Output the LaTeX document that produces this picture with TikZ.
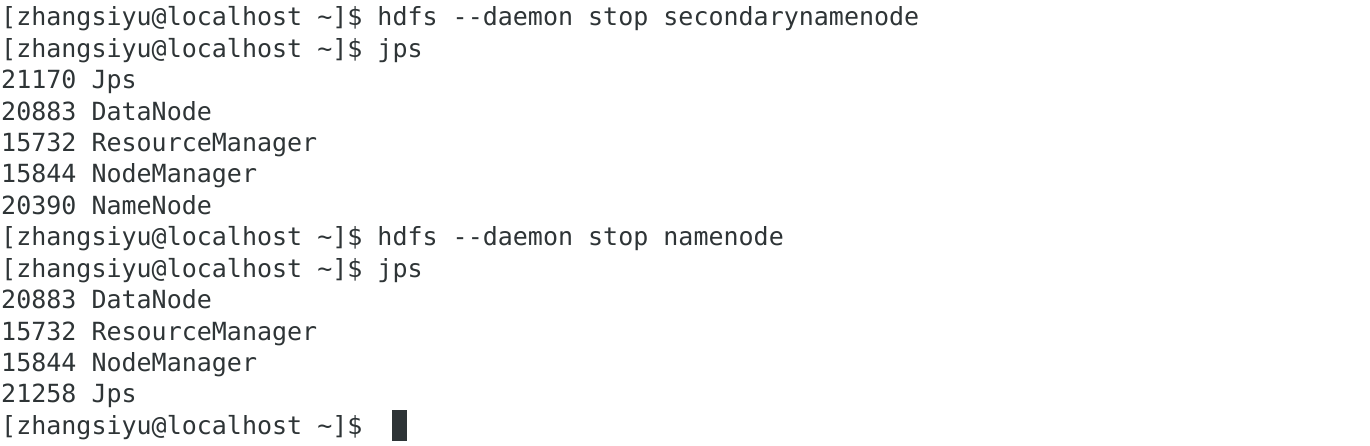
\documentclass[tikz,border=0pt]{standalone}
\usepackage{fontspec}
\setmonofont{DejaVu Sans Mono}
\definecolor{term}{HTML}{2E3436}
\begin{document}
\begin{tikzpicture}[x=1pt,y=-1pt,
  ln/.style={anchor=base west,inner sep=0pt,text=term,font=\ttfamily\fontsize{25}{30}\selectfont}]
\useasboundingbox (0,0) rectangle (1370,446);
\def\P{[zhangsiyu@localhost \textasciitilde]\$ }
\node[ln] (l1) at (1,26) {\P hdfs -{}-daemon stop secondarynamenode};
\node[ln] (l2) at (1,57.4) {\P jps};
\node[ln] (l3) at (1,88.8) {21170 Jps};
\node[ln] (l4) at (1,120.2) {20883 DataNode};
\node[ln] (l5) at (1,151.6) {15732 ResourceManager};
\node[ln] (l6) at (1,183) {15844 NodeManager};
\node[ln] (l7) at (1,214.4) {20390 NameNode};
\node[ln] (l8) at (1,245.8) {\P hdfs -{}-daemon stop namenode};
\node[ln] (l9) at (1,277.2) {\P jps};
\node[ln] (l10) at (1,308.6) {20883 DataNode};
\node[ln] (l11) at (1,340) {15732 ResourceManager};
\node[ln] (l12) at (1,371.4) {15844 NodeManager};
\node[ln] (l13) at (1,402.8) {21258 Jps};
\node[ln] (l14) at (1,434.2) {\P};
\fill[term] (392,410) rectangle (407,441);
\end{tikzpicture}
\end{document}
